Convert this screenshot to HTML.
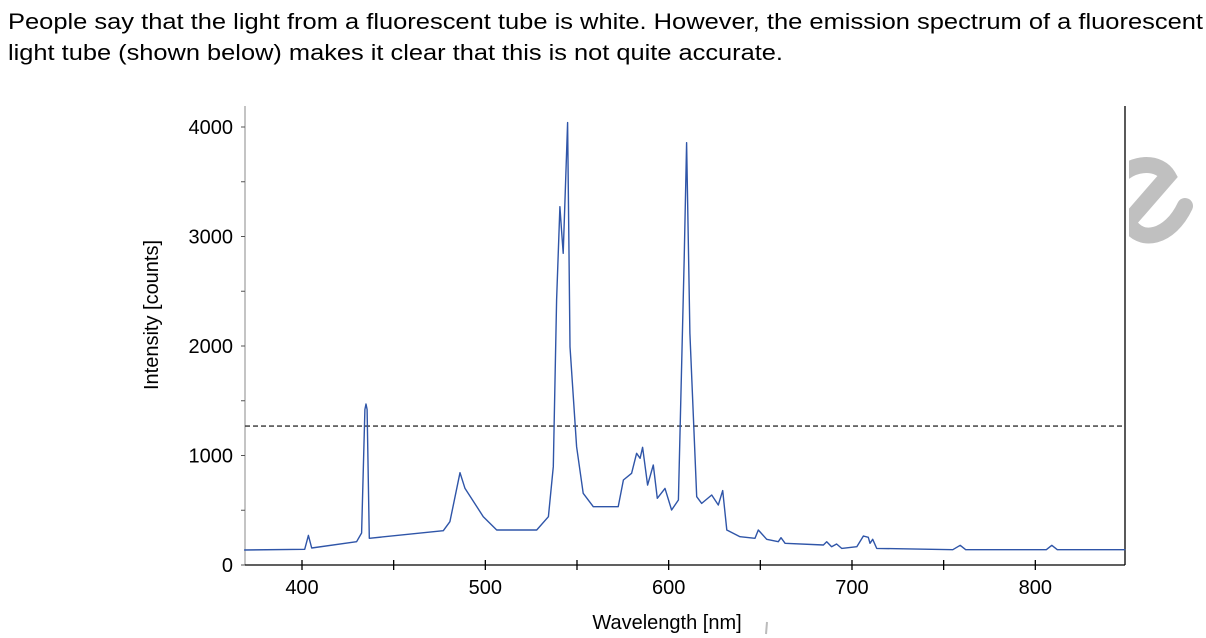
<!DOCTYPE html>
<html><head><meta charset="utf-8"><style>
html,body{margin:0;padding:0;background:#fff;}
svg{display:block;font-family:"Liberation Sans",sans-serif;}
</style></head><body>
<svg id="chart" width="1206" height="638" viewBox="0 0 1206 638" xmlns="http://www.w3.org/2000/svg">
<defs><clipPath id="logoclip"><rect x="1129" y="140" width="77" height="130"/></clipPath></defs>
<text x="8" y="29" font-size="22" textLength="1195" lengthAdjust="spacingAndGlyphs" fill="#000">People say that the light from a fluorescent tube is white. However, the emission spectrum of a fluorescent</text>
<text x="8" y="60" font-size="22" textLength="775" lengthAdjust="spacingAndGlyphs" fill="#000">light tube (shown below) makes it clear that this is not quite accurate.</text>
<g id="axes"></g>
<g id="series"></g>
<path clip-path="url(#logoclip)" d="M1118,178 C1135,160 1160,162 1168,176 L1128,222 C1140,245 1170,238 1185,206" fill="none" stroke="#c0c0c0" stroke-width="16" stroke-linecap="round"/>
<text transform="translate(158,315) rotate(-90)" text-anchor="middle" font-size="20" fill="#000">Intensity [counts]</text>
<text x="667" y="629" text-anchor="middle" font-size="20" fill="#000">Wavelength [nm]</text>
<line x1="767" y1="622" x2="766" y2="634" stroke="#bbb" stroke-width="2"/>
</svg>
<script>
const xTicks = [400, 500, 600, 700, 800];
const xMinorTicks = [450, 550, 650, 750, 850];
const yTicks = [0, 1000, 2000, 3000, 4000];
const yMinorTicks = [500, 1500, 2500, 3500];
const thresholdValue = 1269;
const wavelengths = [368.4,401.5,403.5,405.3,429.8,432.5,434.3,434.9,435.5,436.7,477.1,480.7,486.2,488.9,498.9,506.2,528,534.4,537.1,538.9,540.7,541.6,542.5,543.8,544.9,546.2,549.8,553.4,558.9,572.5,575.3,579.8,582.5,584.4,585.8,588.5,591.6,593.8,598,601.6,605.3,608.5,609.8,611.6,615.3,618,623.5,627.1,629.5,631.7,638.9,647.1,648.9,653.5,659.8,661.3,663.5,684.4,686.2,688.9,691.6,694.4,702.6,706.2,708.9,709.8,711.3,713.5,755,759,762,806,809,812,849];
const intensities = [137,143,270,155,213,292,1420,1470,1420,244,313,395,843,700,441,320,320,441,898,2420,3272,3050,2847,3500,4040,1993,1080,655,532,532,776,837,1020,974,1075,730,913,609,700,502,594,2800,3857,2116,624,563,639,548,679,320,258,244,320,235,213,249,198,183,213,167,192,152,167,265,253,198,235,152,140,180,140,140,180,140,140];
const X0=245, X1=1125, Y0=565;
const xScale = v => 302 + (v-400)*1.8333;
const yScale = v => Y0 - v*0.1095;
const NS="http://www.w3.org/2000/svg";
function mk(tag, attrs, parent){const e=document.createElementNS(NS,tag);for(const k in attrs)e.setAttribute(k,attrs[k]);parent.appendChild(e);return e;}
const axes=document.getElementById('axes');
let e;
e=mk('line',{x1:X0,y1:106,x2:X0,y2:Y0,stroke:'#888','stroke-width':1},axes);


e=mk('line',{x1:X1,y1:106,x2:X1,y2:Y0,stroke:'#000','stroke-width':1.3},axes);


e=mk('line',{x1:X0,y1:Y0,x2:X1,y2:Y0,stroke:'#000','stroke-width':1.3},axes);


xTicks.concat(xMinorTicks).forEach(v=>{const x=xScale(v); if(x>X1+1)return;
  const t=mk('line',{x1:x,y1:Y0-5,x2:x,y2:Y0+5,stroke:'#000','stroke-width':1.3},axes);
  
  
});
xTicks.forEach(v=>{const t=mk('text',{x:xScale(v),y:594,'text-anchor':'middle','font-size':20,fill:'#000'},axes);t.textContent=v;
  
  
});
yTicks.concat(yMinorTicks).forEach(v=>{const y=yScale(v);
  const t=mk('line',{x1:X0-4,y1:y,x2:X0,y2:y,stroke:'#555','stroke-width':1},axes);
  
  
});
yTicks.forEach(v=>{const t=mk('text',{x:233,y:yScale(v)+7,'text-anchor':'end','font-size':20,fill:'#000'},axes);t.textContent=v;
  
  
});
e=mk('line',{x1:X0,y1:yScale(thresholdValue),x2:X1,y2:yScale(thresholdValue),stroke:'#333','stroke-width':1.3,'stroke-dasharray':'5,3'},axes);


const series=document.getElementById('series');
const d=wavelengths.map((w,i)=>(i?'L':'M')+xScale(w).toFixed(1)+','+yScale(intensities[i]).toFixed(1)).join(' ');
e=mk('path',{d:d,fill:'none',stroke:'#2f55a8','stroke-width':1.4,'stroke-linejoin':'round'},series);


</script>
</body></html>
